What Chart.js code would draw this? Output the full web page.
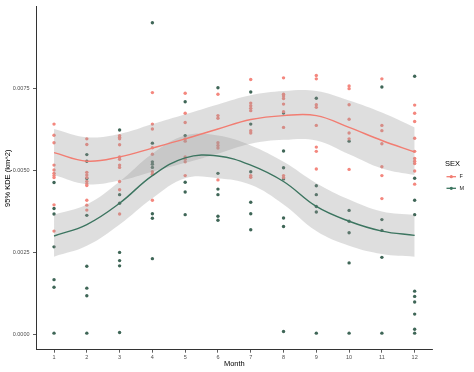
<!DOCTYPE html>
<html><head><meta charset="utf-8">
<script src="https://cdn.jsdelivr.net/npm/chart.js@4/dist/chart.umd.min.js"></script>
<style>html,body{margin:0;padding:0;background:#fff}canvas{display:block}</style>
</head><body>
<canvas id="c" width="474" height="372"></canvas>
<script>
// ---- data ----
const months = [1,2,3,4,5,6,7,8,9,10,11,12];
const yTicks = [0, 0.0025, 0.005, 0.0075];
const sexes = ['F','M'];

// smooth fits and 95% band edges read at each month
const fFit   = [0.00553,0.00527,0.00540,0.00567,0.00595,0.00625,0.00654,0.00666,0.00666,0.00630,0.00590,0.00555];
const fUpper = [0.00625,0.00600,0.00610,0.00640,0.00670,0.00700,0.00728,0.00741,0.00741,0.00712,0.00675,0.00630];
const fLower = [0.00485,0.00457,0.00468,0.00495,0.00522,0.00550,0.00580,0.00592,0.00590,0.00548,0.00505,0.00485];
const mFit   = [0.00299,0.00334,0.00399,0.00483,0.00537,0.00543,0.00515,0.00465,0.00389,0.00344,0.00314,0.00301];
const mUpper = [0.00364,0.00395,0.00465,0.00550,0.00605,0.00605,0.00575,0.00525,0.00460,0.00410,0.00374,0.00364];
const mLower = [0.00236,0.00269,0.00334,0.00414,0.00475,0.00475,0.00455,0.00395,0.00314,0.00269,0.00244,0.00236];

// observed points per month
const fPoints = [
  [0.00640,0.00606,0.00583,0.00515,0.00500,0.00490,0.00483,0.00477,0.00394,0.00314],
  [0.00595,0.00578,0.00493,0.00485,0.00477,0.00465,0.00458,0.00453,0.00408,0.00393,0.00378],
  [0.00605,0.00600,0.00595,0.00577,0.00540,0.00533,0.00515,0.00508,0.00465,0.00440,0.00366],
  [0.00736,0.00640,0.00625,0.00568,0.00548,0.00495,0.00487,0.00408],
  [0.00734,0.00673,0.00645,0.00595,0.00588,0.00540,0.00533,0.00525,0.00483],
  [0.00731,0.00666,0.00658,0.00583,0.00575,0.00567,0.00470],
  [0.00776,0.00704,0.00696,0.00688,0.00681,0.00620,0.00613,0.00483,0.00478],
  [0.00781,0.00731,0.00726,0.00718,0.00701,0.00678,0.00630,0.00483,0.00477],
  [0.00788,0.00778,0.00699,0.00691,0.00636,0.00570,0.00557,0.00503],
  [0.00756,0.00748,0.00699,0.00655,0.00613,0.00595,0.00502],
  [0.00778,0.00636,0.00620,0.00580,0.00510,0.00483,0.00413],
  [0.00698,0.00673,0.00648,0.00597,0.00557,0.00535,0.00527,0.00520,0.00497,0.00457]
];
const mPoints = [
  [0.00462,0.00383,0.00366,0.00266,0.00166,0.00143,0.00003],
  [0.00547,0.00527,0.00474,0.00362,0.00207,0.00140,0.00117,0.00003],
  [0.00622,0.00425,0.00399,0.00249,0.00224,0.00208,0.00005],
  [0.00949,0.00582,0.00525,0.00518,0.00508,0.00367,0.00353,0.00230],
  [0.00708,0.00605,0.00463,0.00433,0.00364],
  [0.00751,0.00490,0.00442,0.00425,0.00359,0.00347],
  [0.00738,0.00640,0.00495,0.00402,0.00367,0.00318],
  [0.00674,0.00558,0.00507,0.00473,0.00354,0.00328,0.00008],
  [0.00719,0.00452,0.00425,0.00389,0.00372,0.00003],
  [0.00588,0.00377,0.00344,0.00309,0.00217,0.00003],
  [0.00753,0.00349,0.00316,0.00234,0.00003],
  [0.00786,0.00475,0.00408,0.00364,0.00131,0.00115,0.00098,0.00061,0.00015,0.00003]
];

// ---- styling ----
const FONT = "'Liberation Sans', Arial, Helvetica, sans-serif";
const F_LINE = '#F27D72', F_PT = '#F4877E';
const M_LINE = '#3C7560', M_PT = '#3F6657';
const BAND = 'rgba(153,153,153,0.32)';
const AXIS = '#333333';

const toXY = ys => months.map((m,i)=>({x:m,y:ys[i]}));
const toPts = arr => arr.flatMap((vals,i)=>vals.map(v=>({x:months[i],y:v})));

const legendPlugin = {
  id:'sexLegend',
  afterDraw(chart){
    const ctx = chart.ctx;
    ctx.save();
    ctx.textBaseline = 'middle';
    ctx.textAlign = 'left';
    ctx.fillStyle = '#000';
    ctx.font = '7.5px ' + FONT;
    ctx.fillText('SEX', 445, 163.5);
    const rows = [{t:sexes[0], c:F_LINE, y:176.7},{t:sexes[1], c:M_LINE, y:188.3}];
    rows.forEach(r=>{
      ctx.strokeStyle = r.c; ctx.lineWidth = 1.3;
      ctx.beginPath(); ctx.moveTo(446.5, r.y); ctx.lineTo(456, r.y); ctx.stroke();
      ctx.fillStyle = r.c;
      ctx.beginPath(); ctx.arc(451.3, r.y, 1.6, 0, Math.PI*2); ctx.fill();
      ctx.fillStyle = '#1a1a1a';
      ctx.font = '5.5px ' + FONT;
      ctx.fillText(r.t, 459.5, r.y);
    });
    ctx.restore();
  }
};

const gridOpts = {drawOnChartArea:false, drawTicks:true, tickLength:3, color:AXIS, lineWidth:0.8};
const borderOpts = {color:AXIS, width:1};

new Chart(document.getElementById('c').getContext('2d'), {
  type:'line',
  data:{datasets:[
    {label:'F obs', data:toPts(fPoints), showLine:false, pointRadius:1.7, pointBackgroundColor:F_PT, pointBorderWidth:0, order:3},
    {label:'M obs', data:toPts(mPoints), showLine:false, pointRadius:1.7, pointBackgroundColor:M_PT, pointBorderWidth:0, order:3},
    {label:'F upper', data:toXY(fUpper), fill:'+1', backgroundColor:BAND, borderWidth:0, pointRadius:0, tension:0.4, order:2},
    {label:'F lower', data:toXY(fLower), fill:false, borderWidth:0, pointRadius:0, tension:0.4, order:2},
    {label:'M upper', data:toXY(mUpper), fill:'+1', backgroundColor:BAND, borderWidth:0, pointRadius:0, tension:0.4, order:2},
    {label:'M lower', data:toXY(mLower), fill:false, borderWidth:0, pointRadius:0, tension:0.4, order:2},
    {label:'F', data:toXY(fFit), fill:false, borderColor:F_LINE, borderWidth:1.4, pointRadius:0, tension:0.4, order:1},
    {label:'M', data:toXY(mFit), fill:false, borderColor:M_LINE, borderWidth:1.4, pointRadius:0, tension:0.4, order:1}
  ]},
  options:{
    responsive:false, animation:false, events:[],
    layout:{padding:{top:4, right:41.3, bottom:0, left:0}},
    plugins:{legend:{display:false}, tooltip:{enabled:false}},
    scales:{
      x:{type:'linear', min:0.45, max:12.55,
        afterFit(s){ s.height = 22.3; },
        afterBuildTicks(s){ s.ticks = months.map(v=>({value:v})); },
        grid:gridOpts, border:borderOpts,
        ticks:{font:{size:5.5, family:FONT}, color:'#4d4d4d', padding:1, autoSkip:false, maxRotation:0, callback:v=>String(v)},
        title:{display:true, text:'Month', font:{size:7.5, family:FONT}, color:'#000', padding:{top:0, bottom:3.8}}
      },
      y:{type:'linear', min:-0.000475, max:0.009975,
        afterFit(s){ s.width = 36; },
        afterBuildTicks(s){ s.ticks = yTicks.map(v=>({value:v})); },
        grid:gridOpts, border:borderOpts,
        ticks:{font:{size:5.5, family:FONT}, color:'#4d4d4d', padding:3.5, callback:v=>Number(v).toFixed(4)},
        title:{display:true, text:'95% KDE (km^2)', font:{size:7.5, family:FONT}, color:'#000', padding:{top:3, bottom:0}}
      }
    }
  },
  plugins:[legendPlugin]
});
</script>
</body></html>
